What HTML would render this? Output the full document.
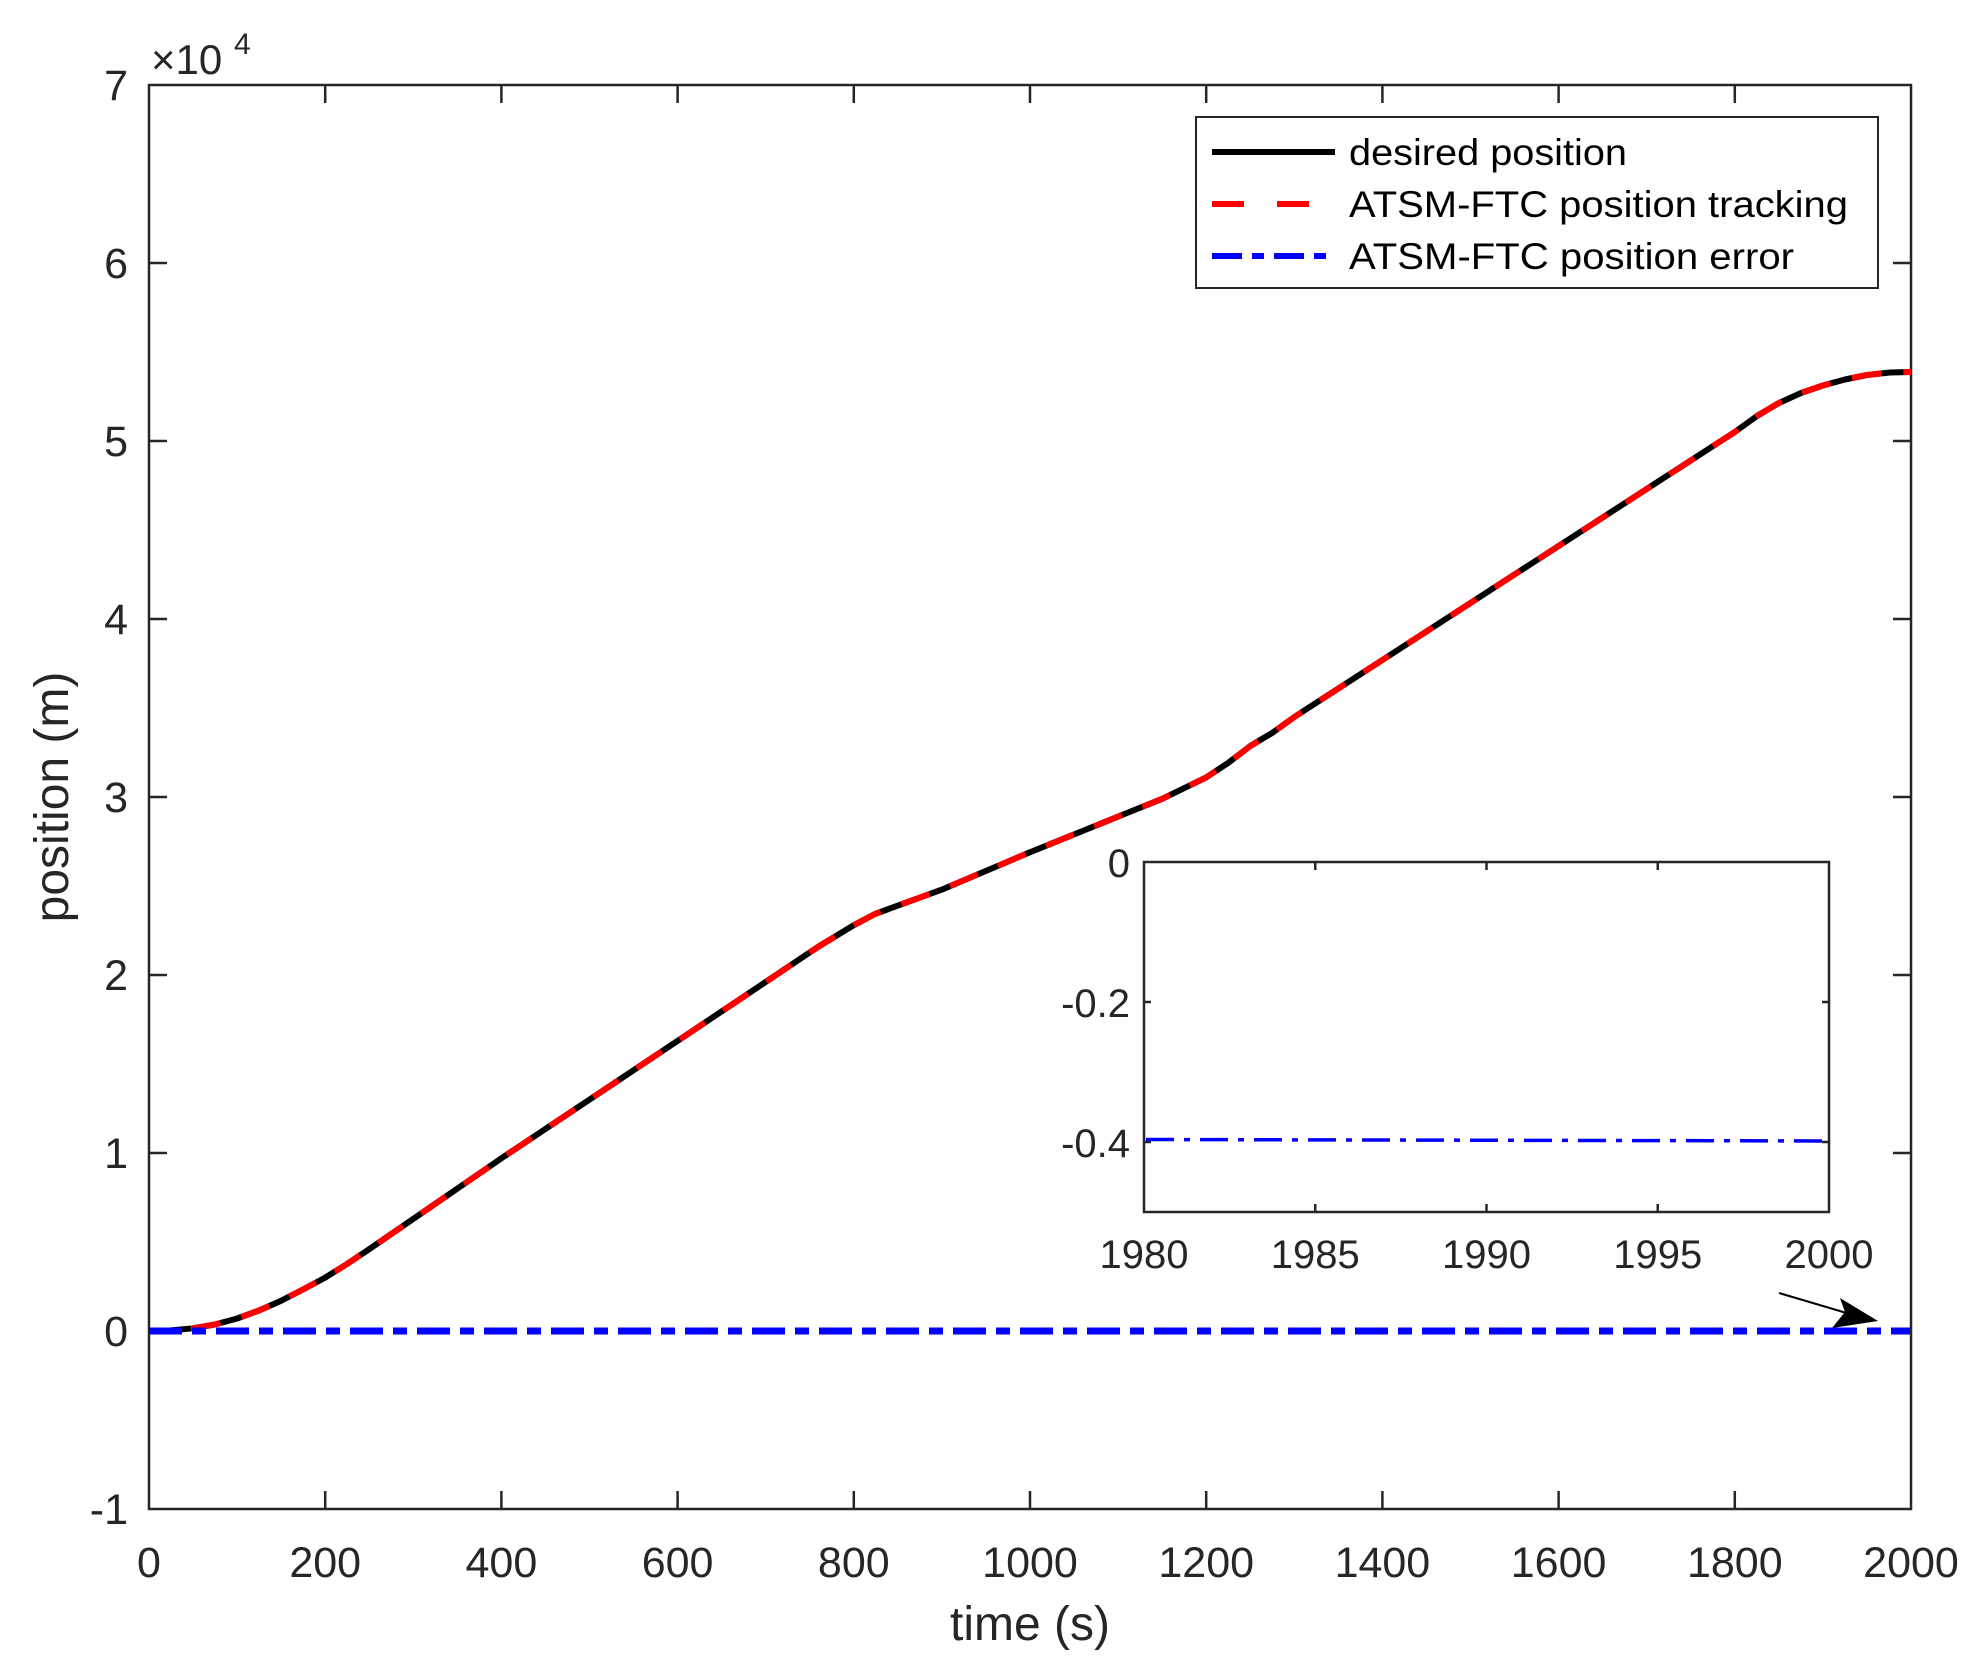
<!DOCTYPE html>
<html><head><meta charset="utf-8"><style>
html,body{margin:0;padding:0;background:#fff;}
svg{display:block;}
text{font-family:"Liberation Sans",Arial,sans-serif;fill:#262626;}
</style></head><body>
<svg width="1980" height="1668" viewBox="0 0 1980 1668" xmlns="http://www.w3.org/2000/svg">
<rect width="1980" height="1668" fill="#fff"/>
<rect x="149" y="85" width="1762" height="1424" fill="#fff" stroke="#262626" stroke-width="2.5"/>
<g stroke="#262626" stroke-width="2.5">
<path d="M325.2 1509v-18M501.4 1509v-18M677.6 1509v-18M853.8 1509v-18M1030 1509v-18M1206.2 1509v-18M1382.4 1509v-18M1558.6 1509v-18M1734.8 1509v-18
M325.2 85v18M501.4 85v18M677.6 85v18M853.8 85v18M1030 85v18M1206.2 85v18M1382.4 85v18M1558.6 85v18M1734.8 85v18"/>
<path d="M149 1331h18M149 1153h18M149 975h18M149 797h18M149 619h18M149 441h18M149 263h18
M1911 1331h-18M1911 1153h-18M1911 975h-18M1911 797h-18M1911 619h-18M1911 441h-18M1911 263h-18"/>
</g>
<g font-size="43" text-anchor="middle">
<text x="149" y="1577">0</text><text x="325.2" y="1577">200</text><text x="501.4" y="1577">400</text><text x="677.6" y="1577">600</text><text x="853.8" y="1577">800</text><text x="1030" y="1577">1000</text><text x="1206.2" y="1577">1200</text><text x="1382.4" y="1577">1400</text><text x="1558.6" y="1577">1600</text><text x="1734.8" y="1577">1800</text><text x="1911" y="1577">2000</text>
</g>
<g font-size="43" text-anchor="end">
<text x="128" y="1524">-1</text><text x="128" y="1346">0</text><text x="128" y="1168">1</text><text x="128" y="990">2</text><text x="128" y="812">3</text><text x="128" y="634">4</text><text x="128" y="456">5</text><text x="128" y="278">6</text><text x="128" y="100">7</text>
</g>
<text x="151" y="74" font-size="42">×10</text><text x="234" y="54" font-size="30">4</text>
<text x="1030" y="1640" font-size="48" text-anchor="middle">time (s)</text>
<text transform="translate(68 797) rotate(-90)" font-size="48" text-anchor="middle">position (m)</text>

<polyline fill="none" stroke="#000" stroke-width="6" stroke-linejoin="round" points="149,1331 171,1330.4 193,1328.3 215,1324.5 237.1,1318.5 259,1310.5 281.2,1300.7 303,1289.5 325.2,1277.6 347,1264 369.3,1249.1 413.3,1218.9 501.4,1158.3 677.6,1040.9 818.6,946.5 853.8,925.2 875,914 897.9,905.6 941.9,889.6 1030,852.2 1118.1,816.6 1162.2,798.8 1206.2,777.4 1228,763 1250.3,746 1272,733 1294.3,717 1382.4,660 1558.6,546 1734.8,432 1757,416 1778.9,403 1801,393 1822.9,385.5 1845,379.5 1867,375 1890,372.5 1911,372"/>
<polyline fill="none" stroke="#f00" stroke-width="6" stroke-dasharray="30 22" stroke-dashoffset="10" stroke-linejoin="round" points="149,1331 171,1330.4 193,1328.3 215,1324.5 237.1,1318.5 259,1310.5 281.2,1300.7 303,1289.5 325.2,1277.6 347,1264 369.3,1249.1 413.3,1218.9 501.4,1158.3 677.6,1040.9 818.6,946.5 853.8,925.2 875,914 897.9,905.6 941.9,889.6 1030,852.2 1118.1,816.6 1162.2,798.8 1206.2,777.4 1228,763 1250.3,746 1272,733 1294.3,717 1382.4,660 1558.6,546 1734.8,432 1757,416 1778.9,403 1801,393 1822.9,385.5 1845,379.5 1867,375 1890,372.5 1911,372"/>
<line x1="149" y1="1331" x2="1910" y2="1331" stroke="#00f" stroke-width="7" stroke-dasharray="33 10 14 10"/>

<line x1="1779" y1="1293" x2="1850" y2="1314" stroke="#000" stroke-width="2"/>
<polygon points="1878,1321 1840,1298 1845,1312 1832,1328" fill="#000"/>

<rect x="1196" y="117" width="682" height="171" fill="#fff" stroke="#262626" stroke-width="2"/>
<line x1="1212" y1="152" x2="1335" y2="152" stroke="#000" stroke-width="6"/>
<line x1="1212" y1="204" x2="1335" y2="204" stroke="#f00" stroke-width="6" stroke-dasharray="32 33"/>
<line x1="1212" y1="256" x2="1335" y2="256" stroke="#00f" stroke-width="6" stroke-dasharray="30 10 12 10"/>
<g font-size="37">
<text x="1349" y="165" style="fill:#000" textLength="278" lengthAdjust="spacingAndGlyphs">desired position</text>
<text x="1349" y="217" style="fill:#000" textLength="499" lengthAdjust="spacingAndGlyphs">ATSM-FTC position tracking</text>
<text x="1349" y="269" style="fill:#000" textLength="445" lengthAdjust="spacingAndGlyphs">ATSM-FTC position error</text>
</g>

<rect x="1144" y="862" width="685" height="350" fill="#fff" stroke="#262626" stroke-width="2.5"/>
<g stroke="#262626" stroke-width="2.5">
<path d="M1315.25 1212v-8M1486.5 1212v-8M1657.75 1212v-8M1315.25 862v8M1486.5 862v8M1657.75 862v8
M1144 1002h7M1144 1142h7M1829 1002h-7M1829 1142h-7"/>
</g>
<line x1="1146" y1="1139.5" x2="1829" y2="1141" stroke="#00f" stroke-width="3.5" stroke-dasharray="28 10 6 10"/>
<g font-size="40" text-anchor="middle">
<text x="1144" y="1268">1980</text><text x="1315.25" y="1268">1985</text><text x="1486.5" y="1268">1990</text><text x="1657.75" y="1268">1995</text><text x="1829" y="1268">2000</text>
</g>
<g font-size="40" text-anchor="end">
<text x="1130" y="877">0</text><text x="1130" y="1017">-0.2</text><text x="1130" y="1157">-0.4</text>
</g>
</svg>
</body></html>
